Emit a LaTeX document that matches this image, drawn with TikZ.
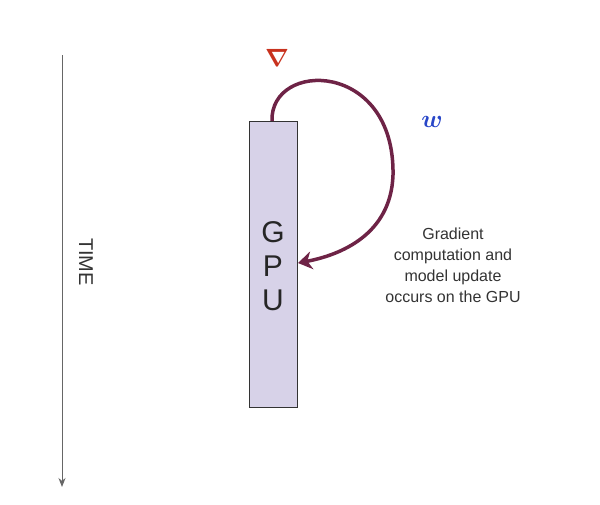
\documentclass[tikz,border=0pt]{standalone}
\usepackage{amsmath,amssymb,bm}
\usepackage{fontspec}
\setmainfont{Liberation Sans}
\usetikzlibrary{arrows.meta}
\definecolor{gpufill}{RGB}{215,210,232}
\definecolor{arc}{RGB}{110,35,70}
\definecolor{nab}{RGB}{200,50,30}
\definecolor{wcol}{RGB}{40,70,200}
\begin{document}
\begin{tikzpicture}[x=1pt,y=-1pt,
  lbl/.style={text=black!80, align=center}]
\useasboundingbox (0,0) rectangle (600,504);
\node[draw=black!80, fill=gpufill, minimum width=48pt, minimum height=286pt, inner sep=0pt, line width=0.8pt] (gpu) at (273,264) {};
\node[font=\fontsize{30}{34}\selectfont, align=center, text=black!85] (gt) at (273,266) {G\\P\\U};
\coordinate (top) at (272,121);
\coordinate (tip) at (298,263);
\draw[arc, line width=3.5pt, -{Stealth[length=14pt,width=18pt]}] (top) .. controls (270,60) and (395,60) .. (393,175) .. controls (391,235) and (340,255) .. (tip);
\node[text=nab, font=\fontsize{30}{32}\selectfont] (nabla) at (277,58) {$\bm{\nabla}$};
\node[text=wcol, font=\fontsize{26}{28}\selectfont] (w) at (432,122) {$\bm{w}$};
\node[lbl, font=\fontsize{16}{21}\selectfont] (txt) at (453,265) {Gradient\\computation and\\model update\\occurs on the GPU};
\coordinate (t0) at (62,55);
\coordinate (t1) at (62,487);
\draw[black!60, line width=1pt, -{Stealth[length=9pt,width=7pt]}] (t0) -- (t1);
\node[lbl, rotate=-90, font=\fontsize{20}{22}\selectfont] (time) at (86,262) {TIME};
\end{tikzpicture}
\end{document}
